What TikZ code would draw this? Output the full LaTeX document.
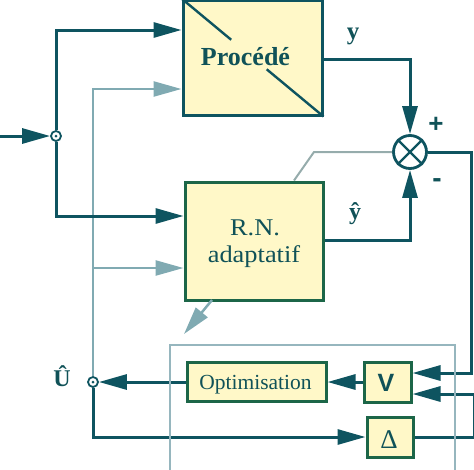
\documentclass[tikz,border=0pt]{standalone}
\usepackage{fontspec}
\setmainfont{Liberation Serif}
\newfontfamily\rnfont{Liberation Serif}[FakeStretch=1.1]
\newfontfamily\sansfnt{Liberation Sans}
\usetikzlibrary{arrows.meta,calc}
\definecolor{dk}{RGB}{14,84,96}
\definecolor{bx}{RGB}{28,102,72}
\definecolor{fl}{RGB}{255,248,200}
\definecolor{lt}{RGB}{128,170,178}
\definecolor{gy}{RGB}{150,172,172}
\definecolor{fr}{RGB}{150,182,190}
\definecolor{tx}{RGB}{16,82,88}
\tikzset{
  dkl/.style={draw=dk, line width=3pt},
  ltl/.style={draw=lt, line width=2.5pt},
  grl/.style={draw=gy, line width=2pt},
  frl/.style={draw=fr, line width=2.2pt},
  arr/.style={-{Triangle[length=28pt,width=15pt]}},
  gbox/.style={draw=bx, line width=3pt, fill=fl, inner sep=0pt},
  pbox/.style={draw=dk, line width=3pt, fill=fl, inner sep=0pt},
  txt/.style={text=tx, inner sep=0pt, anchor=base},
  jn/.style={circle, draw=dk, line width=1.8pt, fill=white, minimum size=10pt, inner sep=0pt},
  sumnode/.style={circle, draw=dk, line width=2.8pt, fill=white, minimum size=33pt, inner sep=0pt},
}
\begin{document}
\begin{tikzpicture}[x=1pt,y=-1pt]
\useasboundingbox (0,0) rectangle (474,469);
% boxes
\node[pbox, minimum width=139pt, minimum height=115pt] (proc) at (252.5,57.5) {};
\node[gbox, minimum width=138pt, minimum height=118pt] (rn) at (254,241) {};
\node[gbox, minimum width=139pt, minimum height=39pt] (opt) at (256.5,382) {};
\node[gbox, minimum width=47pt, minimum height=40pt] (v) at (387.5,382) {};
\node[gbox, minimum width=46pt, minimum height=40pt] (d) at (390,437) {};
\node[sumnode] (sum) at (410,152) {};
\node[jn] (j1) at (56,136) {};
\node[jn] (j2) at (93,382) {};
% texts
\node[txt, font=\bfseries\fontsize{26}{30}\selectfont] (proct) at (245.5,65) {Procédé};
\node[txt, font=\rnfont\fontsize{24}{28}\selectfont] (rn1) at (255,235) {R.N.};
\node[txt, font=\rnfont\fontsize{24}{28}\selectfont] (rn2) at (254,262) {adaptatif};
\node[txt, font=\fontsize{21.5}{26}\selectfont] (optt) at (255.5,389) {Optimisation};
\node[txt, font=\sansfnt\bfseries\fontsize{25}{28}\selectfont] (vt) at (386,391) {V};
\node[txt, font=\fontsize{27}{30}\selectfont] (dt) at (389,448) {Δ};
\node[txt, font=\bfseries\fontsize{25}{28}\selectfont] (ylab) at (353,39) {y};
\node[txt, font=\bfseries\fontsize{24}{26}\selectfont] (yhat) at (355,219) {ŷ};
\node[txt, font=\bfseries\fontsize{24}{26}\selectfont] (uhat) at (62,386) {Û};
\node[text=tx, inner sep=0pt, font=\sansfnt\bfseries\fontsize{26}{28}\selectfont] (plus) at (436,125) {+};
\node[text=tx, inner sep=0pt, font=\sansfnt\bfseries\fontsize{28}{28}\selectfont] (minus) at (437,183) {-};
% coordinates
\coordinate (in0) at (0,136);
\coordinate (c30) at (0,30);
\coordinate (c216) at (0,216);
\coordinate (c89) at (0,89);
\coordinate (c268) at (0,268);
\coordinate (c59) at (0,59);
\coordinate (c240) at (0,240);
\coordinate (g1) at (314,152);
\coordinate (g2) at (294,0);
\coordinate (r1) at (471,373);
\coordinate (r2) at (474,394);
\coordinate (la1) at (212,300);
\coordinate (la2) at (184,334);
% procede diagonals
\draw[draw=dk, line width=2.4pt] (proc.north west) -- ($(proc.north west)!0.35!(proc.south east)$);
\draw[draw=dk, line width=2.4pt] ($(proc.north west)!0.6!(proc.south east)$) -- (proc.south east);
% sum cross
\draw[draw=dk, line width=2.4pt] (sum.north west) -- (sum.south east);
\draw[draw=dk, line width=2.4pt] (sum.north east) -- (sum.south west);
% light connectors
\draw[ltl, arr] (j2.north) |- (proc.west |- c89);
\draw[ltl, arr] (j2 |- c268) -- (rn.west |- c268);
\draw[ltl, arr] (la1) -- (la2);
\draw[grl] (sum.west) -- (g1) -- (rn.north -| g2);
% dark connectors
\draw[dkl, arr] (in0) -- (j1);
\draw[dkl, arr] (j1.north) |- (proc.west |- c30);
\draw[dkl, arr] (j1.south) |- (rn.west |- c216);
\draw[dkl, arr] (proc.east |- c59) -| (sum.north);
\draw[dkl, arr] (rn.east |- c240) -| (sum.south);
\draw[dkl, arr] (sum.east) -| (r1) -- (v.east |- r1);
\draw[dkl, arr] (d.east) -| (r2) -- (v.east |- r2);
\draw[dkl, arr] (v.west) -- (opt.east);
\draw[dkl, arr] (opt.west) -- (j2);
\draw[dkl, arr] (j2.south) |- (d.west);
\fill[dk] (j1) circle (1.5pt);
\fill[dk] (j2) circle (1.5pt);
% frame
\draw[frl] (170,480) -- (170,345) -- (455,345) -- (455,480);
\end{tikzpicture}
\end{document}
